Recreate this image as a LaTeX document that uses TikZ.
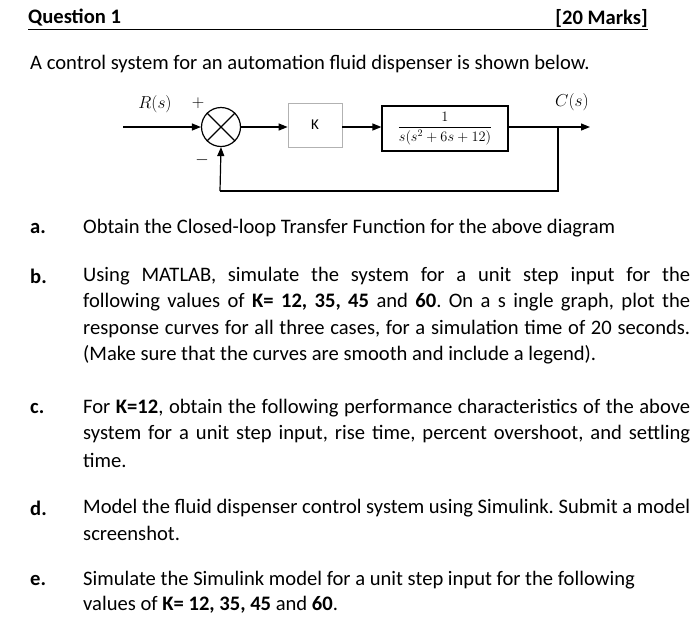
\documentclass[tikz,border=0pt]{standalone}
\usepackage{fontspec}
\setmainfont{Carlito}
\usetikzlibrary{arrows.meta}
\begin{document}
\frenchspacing
\begin{tikzpicture}[x=1pt,y=-1pt,
  txt/.style={anchor=west,inner sep=0pt,font=\fontsize{20.6}{24}\selectfont},
  bt/.style={txt,font=\fontsize{20.6}{24}\selectfont\bfseries},
  sig/.style={line width=1.2pt,-{Triangle[length=9pt,width=7pt]}},
  wire/.style={line width=1.2pt},
  lbl/.style={inner sep=0pt,font=\fontsize{19}{22}\selectfont}]
\useasboundingbox (0,0) rectangle (700,641);
\newcommand{\jl}[1]{\makebox[607pt][s]{#1}}
% header
\node[bt] (q) at (28,18) {Question 1};
\node[bt,anchor=east] (m) at (648,18) {[20 Marks]};
\draw[line width=0.9pt] (28,29) -- (648,29);
\node[txt] (intro) at (30,64) {A control system for an automation fluid dispenser is shown below.};
% diagram
\coordinate (in) at (123,127);
\node[circle,draw,line width=1.2pt,minimum size=39pt,inner sep=0pt] (sum) at (221,127) {};
\draw[line width=1.2pt] (sum.45) -- (sum.225) (sum.135) -- (sum.315);
\node[draw=gray!60,line width=0.8pt,minimum width=54pt,minimum height=44pt,font=\fontsize{15}{18}\selectfont] (K) at (315,125) {K};
\node[draw,line width=1.2pt,minimum width=126pt,minimum height=45pt,inner sep=1pt,font=\fontsize{14.5}{17}\selectfont] (G) at (445,128.5) {$\displaystyle\frac{1}{s(s^2+6s+12)}$};
\coordinate (br) at (558,127);
\coordinate (out) at (590,127);
\coordinate (fb) at (558,191);
\coordinate (fs) at (220,191);
\draw[sig] (in) -- (sum.west);
\draw[sig] (sum.east) -- (K.west|-sum);
\draw[sig] (K.east|-sum) -- (G.west|-sum);
\draw[sig] (G.east|-sum) -- (out);
\draw[wire] (br) -- (fb) -- (fs);
\draw[sig] (fs) -- (sum.south);
\node[lbl] (R) at (155,104) {$R(s)$};
\node[lbl] (C) at (572,102) {$C(s)$};
\node[lbl] (p) at (198,103) {$+$};
\node[lbl] (n) at (202,160) {$-$};
% questions
\node[bt] (la) at (30,228) {a.};
\node[txt] (a1) at (83,228) {Obtain the Closed-loop Transfer Function for the above diagram};
\node[bt] (lb) at (30,276) {b.};
\node[txt] (b1) at (83,276) {\jl{Using MATLAB, simulate the system for a unit step input for the}};
\node[txt] (b2) at (83,302) {\jl{following values of \textbf{K= 12, 35, 45} and \textbf{60}. On a s ingle graph, plot the}};
\node[txt] (b3) at (83,329) {\jl{response curves for all three cases, for a simulation time of 20 seconds.}};
\node[txt] (b4) at (83,355) {(Make sure that the curves are smooth and include a legend).};
\node[bt] (lc) at (30,408) {c.};
\node[txt] (c1) at (83,408) {\jl{For \textbf{K=12}, obtain the following performance characteristics of the above}};
\node[txt] (c2) at (83,434) {\jl{system for a unit step input, rise time, percent overshoot, and settling}};
\node[txt] (c3) at (83,460) {time.};
\node[bt] (ld) at (30,508) {d.};
\node[txt] (d1) at (83,508) {\jl{Model the fluid dispenser control system using Simulink. Submit a model}};
\node[txt] (d2) at (83,533) {screenshot.};
\node[bt] (le) at (30,580) {e.};
\node[txt] (e1) at (83,580) {Simulate the Simulink model for a unit step input for the following};
\node[txt] (e2) at (83,605) {values of \textbf{K= 12, 35, 45} and \textbf{60}.};
\end{tikzpicture}
\end{document}
